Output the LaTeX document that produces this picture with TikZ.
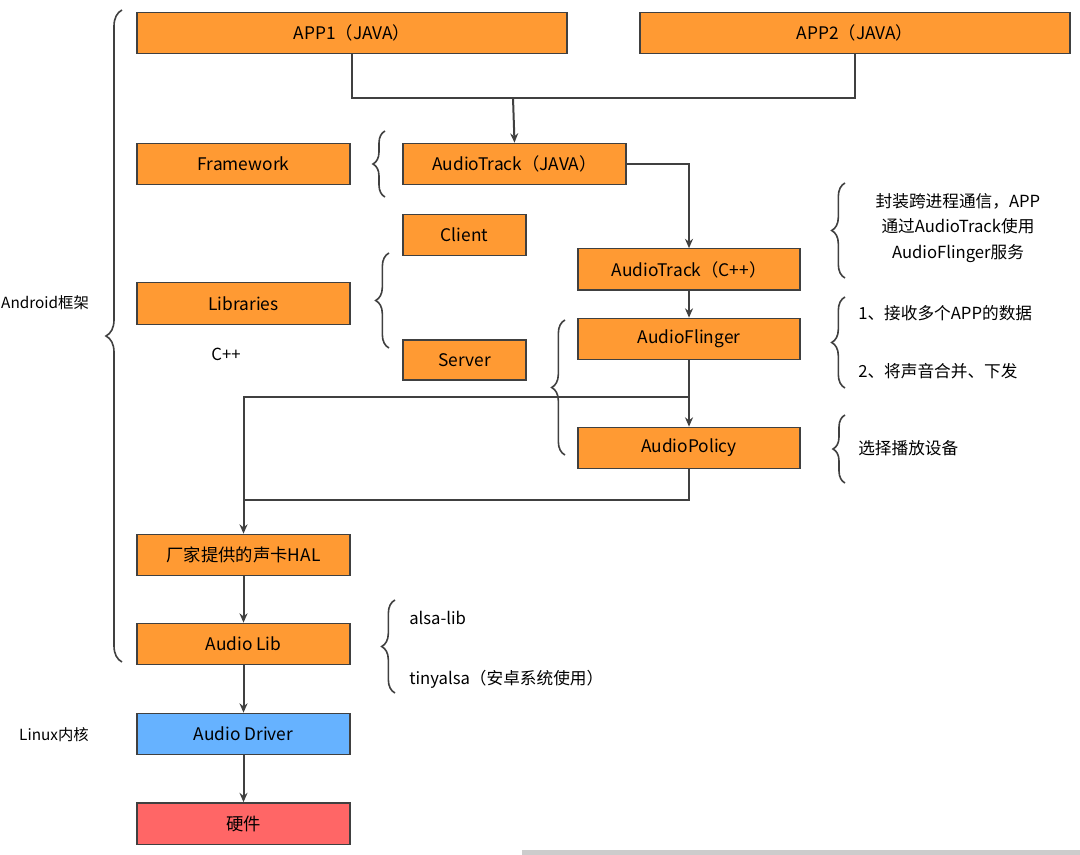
\documentclass[tikz,border=0pt]{standalone}
\usepackage{fontspec}
\setmainfont{Noto Sans CJK SC}
\usetikzlibrary{arrows.meta,decorations.pathreplacing}
\definecolor{orgc}{HTML}{FF9A33}
\definecolor{bluec}{HTML}{66B2FF}
\definecolor{redc}{HTML}{FF6666}
\definecolor{linec}{HTML}{404040}
\begin{document}
\begin{tikzpicture}[x=0.75pt,y=-0.75pt,
  box/.style={draw=linec,line width=1pt,fill=orgc,minimum height=31pt,inner sep=0pt,font=\fontsize{13}{15}\selectfont},
  con/.style={draw=linec,line width=1.5pt},
  arr/.style={con,-{Stealth[length=7pt,width=6pt]}},
  brc/.style={draw=linec,line width=1.2pt,decorate,decoration={brace,amplitude=#1}},
  brc/.default=10pt,
  lbl/.style={font=\fontsize{12.5}{19}\selectfont,align=center,inner sep=0pt}]
\useasboundingbox (0,0) rectangle (1080,855);
% boxes
\node[box,minimum width=430*0.75pt] (app1) at (352,33) {APP1（JAVA）};
\node[box,minimum width=430*0.75pt] (app2) at (855,33) {APP2（JAVA）};
\node[box,minimum width=213*0.75pt] (fw) at (243.5,164) {Framework};
\node[box,minimum width=223*0.75pt] (atj) at (514.5,164) {AudioTrack（JAVA）};
\node[box,minimum width=123*0.75pt] (cli) at (464.5,235) {Client};
\node[box,minimum width=222*0.75pt] (atc) at (689,269.5) {AudioTrack（C++）};
\node[box,minimum width=213*0.75pt] (lib) at (243.5,303.5) {Libraries};
\node[box,minimum width=123*0.75pt,minimum height=30pt] (srv) at (464.5,360) {Server};
\node[box,minimum width=222*0.75pt] (af) at (689,339) {AudioFlinger};
\node[box,minimum width=222*0.75pt] (ap) at (689,448) {AudioPolicy};
\node[box,minimum width=213*0.75pt] (hal) at (243.5,555) {厂家提供的声卡HAL};
\node[box,minimum width=213*0.75pt] (alib) at (243.5,644) {Audio Lib};
\node[box,minimum width=213*0.75pt,fill=bluec] (drv) at (243.5,734) {Audio Driver};
\node[box,minimum width=213*0.75pt,fill=redc] (hw) at (243.5,823.5) {硬件};
% connectors
\coordinate (j) at (513,98);
\coordinate (k) at (688,397);
\coordinate (m) at (243,500);
\draw[con] (app1.south) |- (j) -| (app2.south);
\draw[arr] (j) -- (atj.north);
\draw[arr] (atj.east) -| (atc.north);
\draw[arr] (atc.south) -- (af.north);
\draw[arr] (af.south) -- (ap.north);
\draw[arr] (k) -| (hal.north);
\draw[con] (ap.south) |- (m);
\draw[arr] (hal.south) -- (alib.north);
\draw[arr] (alib.south) -- (drv.north);
\draw[arr] (drv.south) -- (hw.north);
% braces
\draw[brc=12pt] (122,662) -- (122,10);
\draw[brc=9pt] (385,197) -- (385,131);
\draw[brc=10pt] (389,348) -- (389,253);
\draw[brc=10pt] (565,455) -- (565,320);
\draw[brc=10pt] (845,278) -- (845,183);
\draw[brc=10pt] (845,388) -- (845,297);
\draw[brc=9pt] (845,483) -- (845,415);
\draw[brc=10pt] (395,693) -- (395,600);
% labels
\node[lbl,font=\fontsize{11.5}{14}\selectfont] (l1) at (45,303) {Android框架};
\node[lbl] (l2) at (226,354) {C++};
\node[lbl,font=\fontsize{11.5}{14}\selectfont] (l3) at (54,735) {Linux内核};
\node[lbl] (l4) at (958,228) {封装跨进程通信，APP\\通过AudioTrack使用\\AudioFlinger服务};
\node[lbl,anchor=west] (l5) at (858,313) {1、接收多个APP的数据};
\node[lbl,anchor=west] (l6) at (858,371) {2、将声音合并、下发};
\node[lbl,anchor=west] (l7) at (858,448) {选择播放设备};
\node[lbl,anchor=west] (l8) at (409,618) {alsa-lib};
\node[lbl,anchor=west] (l9) at (409,679) {tinyalsa（安卓系统使用）};
\fill[black!20] (522,850) rectangle (1080,855);
\end{tikzpicture}
\end{document}
